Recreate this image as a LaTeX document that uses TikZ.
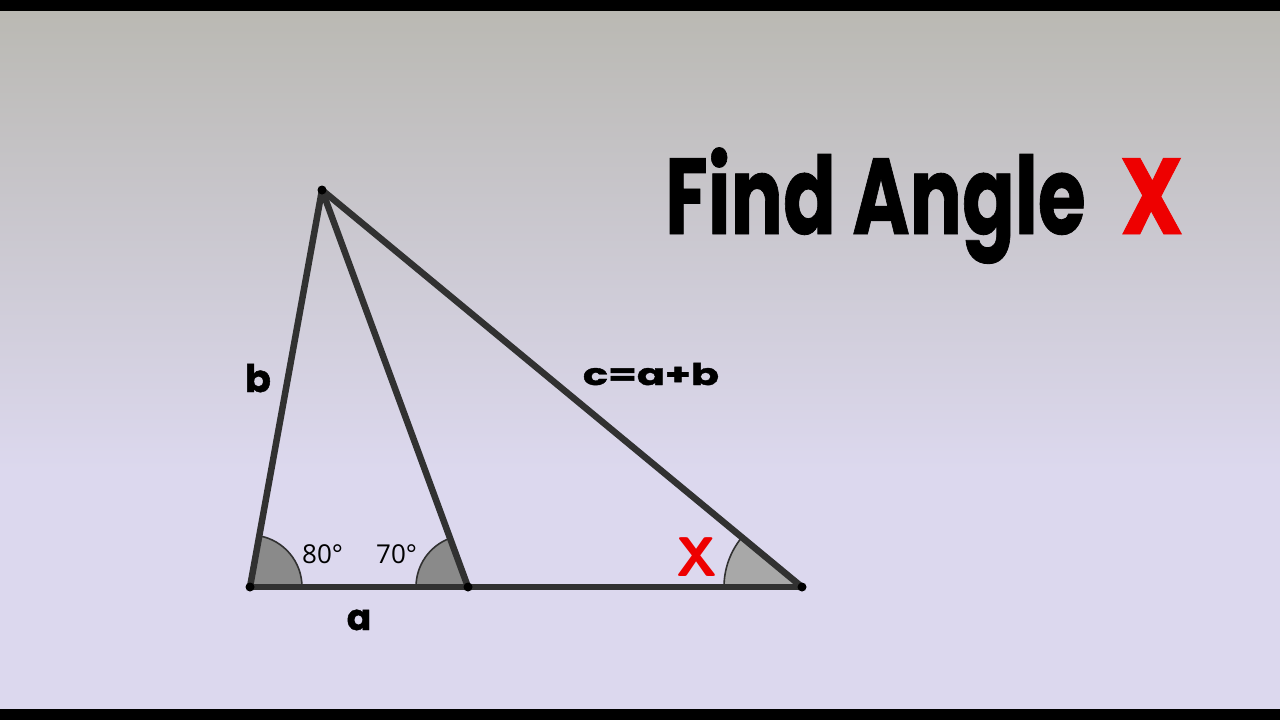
\documentclass[tikz,border=0pt]{standalone}
\usepackage{fontspec}
\usepackage{graphicx}
\setmainfont{Open Sans}
\newfontfamily\pop{Poppins}
\newfontfamily\popheavy{Poppins}[UprightFeatures={FakeBold=1.2}, BoldFeatures={FakeBold=1.2}]
\newfontfamily\poptitle{Poppins}[UprightFeatures={FakeBold=0.8}, BoldFeatures={FakeBold=0.8}]
\usetikzlibrary{calc}
\definecolor{bgtop}{HTML}{BAB9B3}
\definecolor{bgbot}{HTML}{DCD8EE}
\definecolor{edge}{HTML}{313131}
\definecolor{arcdark}{HTML}{8A8A8A}
\definecolor{arclight}{HTML}{A8A8A8}
\definecolor{xred}{HTML}{EE0000}
\tikzset{
  side/.style={draw=edge, line width=6.5pt, line cap=round, line join=round},
  anglefill/.style={draw=edge, line width=1.6pt},
  vdot/.style={circle, fill=black, inner sep=0pt, minimum size=9pt},
  deg/.style={font=\fontsize{26}{26}\selectfont, text=black, anchor=base west, inner sep=0pt},
  lbl/.style={font=\popheavy\bfseries\fontsize{36}{36}\selectfont, text=black, anchor=base, inner sep=0pt},
  title/.style={font=\poptitle\bfseries\fontsize{108}{108}\selectfont, anchor=base west, inner sep=0pt}
}
\begin{document}
\begin{tikzpicture}[x=1pt,y=-1pt]
\useasboundingbox (0,0) rectangle (1280,720);
% background
\fill[black] (0,0) rectangle (1280,720);
\shade[top color=bgtop, bottom color=bgbot, shading angle=0] (0,11) rectangle (1280,470);
\fill[bgbot] (0,469) rectangle (1280,709);
% vertices
\coordinate (A) at (250,587);
\coordinate (P) at (322,190);
\coordinate (D) at (468,587);
\coordinate (C) at (802,587);
% angle markers
\fill[arcdark] (A) -- ++(52,0) arc[start angle=0, end angle=-79.7, radius=52] -- cycle;
\draw[anglefill] ($(A)+(52,0)$) arc[start angle=0, end angle=-79.7, radius=52];
\fill[arcdark] (D) -- ++(-52,0) arc[start angle=-180, end angle=-110.2, radius=52] -- cycle;
\draw[anglefill] ($(D)+(-52,0)$) arc[start angle=-180, end angle=-110.2, radius=52];
\fill[arclight] (C) -- ++(-78,0) arc[start angle=-180, end angle=-140.4, radius=78] -- cycle;
\draw[anglefill] ($(C)+(-78,0)$) arc[start angle=-180, end angle=-140.4, radius=78];
% sides
\draw[side] (A) -- (C);
\draw[side] (A) -- (P);
\draw[side] (P) -- (D);
\draw[side] (P) -- (C);
\node[vdot] (vA) at (A) {};
\node[vdot] (vP) at (P) {};
\node[vdot] (vD) at (D) {};
\node[vdot] (vC) at (C) {};
% labels
\node[deg] (l80) at (302,563) {80°};
\node[deg] (l70) at (376,563) {70°};
\node[lbl] (la) at (359,630) {a};
\node[lbl, font=\popheavy\bfseries\fontsize{38}{38}\selectfont] (lb) at (258,392) {b};
\node[lbl, font=\popheavy\bfseries\fontsize{30}{30}\selectfont] (lc) at (651,385) {\scalebox{1.38}[1]{c=a+b}};
\node[font=\sffamily\bfseries\fontsize{56}{56}\selectfont, text=xred, anchor=base, inner sep=0pt] (lx) at (697,576) {X};
% title
\node[title, text=black] (t1) at (665,234) {\scalebox{0.72}[1]{Find Angle}};
\node[title, text=xred] (t2) at (1120,234) {\scalebox{0.82}[1]{X}};
\end{tikzpicture}
\end{document}
